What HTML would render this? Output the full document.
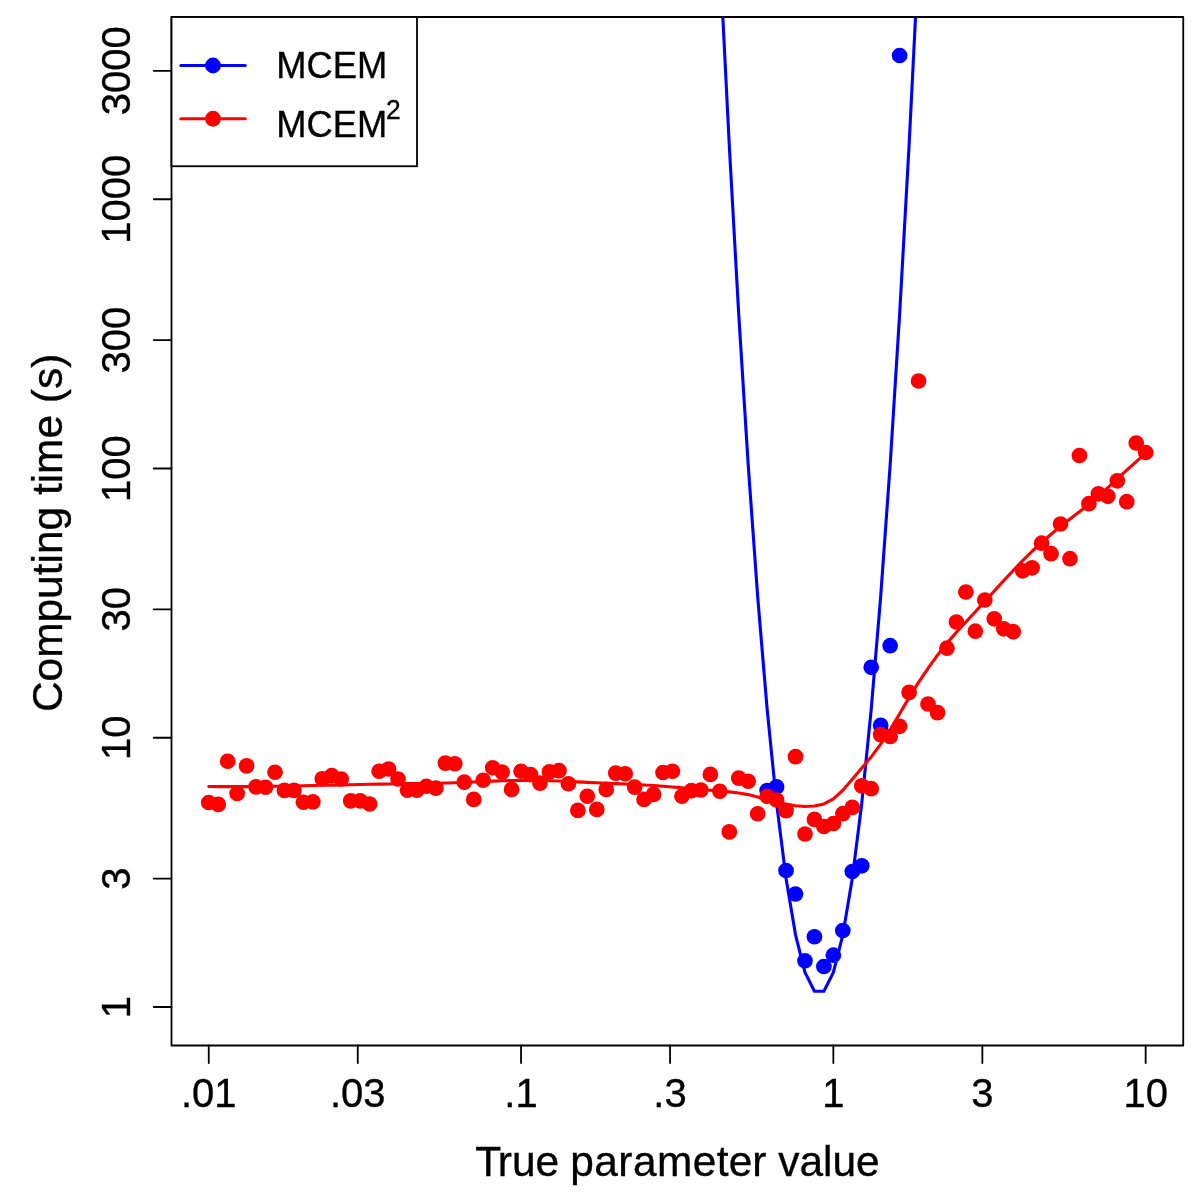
<!DOCTYPE html>
<html><head><meta charset="utf-8"><title>Computing time</title>
<style>
html,body{margin:0;padding:0;background:#fff;}
svg{display:block;}
text{font-family:"Liberation Sans",sans-serif;fill:#000;stroke:#000;stroke-width:0.35px;}
</style></head><body>
<svg width="1200" height="1200" viewBox="0 0 1200 1200">
<rect width="1200" height="1200" fill="#fff"/>
<defs><clipPath id="pc"><rect x="171.5" y="17" width="1011.75" height="1028.5"/></clipPath></defs>

<g clip-path="url(#pc)">
<g fill="#0000ff"><circle cx="767.13" cy="790.6" r="7.85"/><circle cx="776.59" cy="786.9" r="7.85"/><circle cx="786.05" cy="870.5" r="7.85"/><circle cx="795.52" cy="894" r="7.85"/><circle cx="804.98" cy="960.75" r="7.85"/><circle cx="814.45" cy="936.75" r="7.85"/><circle cx="823.91" cy="966.5" r="7.85"/><circle cx="833.37" cy="955.2" r="7.85"/><circle cx="842.84" cy="930.5" r="7.85"/><circle cx="852.30" cy="871.5" r="7.85"/><circle cx="861.77" cy="865.8" r="7.85"/><circle cx="871.23" cy="667.3" r="7.85"/><circle cx="880.69" cy="725.4" r="7.85"/><circle cx="890.16" cy="645.7" r="7.85"/><circle cx="899.62" cy="55.5" r="7.85"/></g>
<path d="M681.95,-982.80 L691.41,-719.60 L700.88,-475.20 L710.34,-249.60 L719.81,-42.80 L729.27,145.20 L738.73,314.40 L748.20,464.80 L757.66,596.40 L767.13,709.20 L776.59,803.20 L786.05,878.40 L795.52,934.80 L804.98,972.40 L814.45,991.20 L823.91,991.20 L833.37,972.40 L842.84,934.80 L852.30,878.40 L861.77,803.20 L871.23,709.20 L880.69,596.40 L890.16,464.80 L899.62,314.40 L909.09,145.20 L918.55,-42.80 L928.01,-249.60 L937.48,-475.20 L946.94,-719.60 L956.41,-982.80" fill="none" stroke="#0000ff" stroke-width="3.1" stroke-linejoin="round" stroke-linecap="round"/>
<g fill="#ff0000"><circle cx="208.75" cy="802.5" r="7.85"/><circle cx="218.21" cy="804.4" r="7.85"/><circle cx="227.68" cy="761.25" r="7.85"/><circle cx="237.14" cy="793.5" r="7.85"/><circle cx="246.61" cy="765.9" r="7.85"/><circle cx="256.07" cy="786.9" r="7.85"/><circle cx="265.53" cy="787.25" r="7.85"/><circle cx="275.00" cy="772.25" r="7.85"/><circle cx="284.46" cy="790.4" r="7.85"/><circle cx="293.93" cy="790.4" r="7.85"/><circle cx="303.39" cy="802.25" r="7.85"/><circle cx="312.85" cy="801.9" r="7.85"/><circle cx="322.32" cy="778.75" r="7.85"/><circle cx="331.78" cy="775.6" r="7.85"/><circle cx="341.25" cy="779" r="7.85"/><circle cx="350.71" cy="800.9" r="7.85"/><circle cx="360.17" cy="800.9" r="7.85"/><circle cx="369.64" cy="804" r="7.85"/><circle cx="379.10" cy="771.25" r="7.85"/><circle cx="388.57" cy="769" r="7.85"/><circle cx="398.03" cy="779" r="7.85"/><circle cx="407.49" cy="790.25" r="7.85"/><circle cx="416.96" cy="790.25" r="7.85"/><circle cx="426.42" cy="786.25" r="7.85"/><circle cx="435.89" cy="788.1" r="7.85"/><circle cx="445.35" cy="763.1" r="7.85"/><circle cx="454.81" cy="763.75" r="7.85"/><circle cx="464.28" cy="782.1" r="7.85"/><circle cx="473.74" cy="799.4" r="7.85"/><circle cx="483.21" cy="780.25" r="7.85"/><circle cx="492.67" cy="767.75" r="7.85"/><circle cx="502.13" cy="772.1" r="7.85"/><circle cx="511.60" cy="789.4" r="7.85"/><circle cx="521.06" cy="771.25" r="7.85"/><circle cx="530.53" cy="774.6" r="7.85"/><circle cx="539.99" cy="783.1" r="7.85"/><circle cx="549.45" cy="771.9" r="7.85"/><circle cx="558.92" cy="770.6" r="7.85"/><circle cx="568.38" cy="783.75" r="7.85"/><circle cx="577.85" cy="810.4" r="7.85"/><circle cx="587.31" cy="796.25" r="7.85"/><circle cx="596.77" cy="809.4" r="7.85"/><circle cx="606.24" cy="789.4" r="7.85"/><circle cx="615.70" cy="773.1" r="7.85"/><circle cx="625.17" cy="773.75" r="7.85"/><circle cx="634.63" cy="787.1" r="7.85"/><circle cx="644.09" cy="799.4" r="7.85"/><circle cx="653.56" cy="794.4" r="7.85"/><circle cx="663.02" cy="772.5" r="7.85"/><circle cx="672.49" cy="771.25" r="7.85"/><circle cx="681.95" cy="796.25" r="7.85"/><circle cx="691.41" cy="790.6" r="7.85"/><circle cx="700.88" cy="790" r="7.85"/><circle cx="710.34" cy="774.4" r="7.85"/><circle cx="719.81" cy="791.25" r="7.85"/><circle cx="729.27" cy="831.9" r="7.85"/><circle cx="738.73" cy="778.1" r="7.85"/><circle cx="748.20" cy="781.25" r="7.85"/><circle cx="757.66" cy="813.75" r="7.85"/><circle cx="767.13" cy="796.25" r="7.85"/><circle cx="776.59" cy="800" r="7.85"/><circle cx="786.05" cy="810.6" r="7.85"/><circle cx="795.52" cy="756.6" r="7.85"/><circle cx="804.98" cy="834" r="7.85"/><circle cx="814.45" cy="819.4" r="7.85"/><circle cx="823.91" cy="826.5" r="7.85"/><circle cx="833.37" cy="823.5" r="7.85"/><circle cx="842.84" cy="813.7" r="7.85"/><circle cx="852.30" cy="807.4" r="7.85"/><circle cx="861.77" cy="785.9" r="7.85"/><circle cx="871.23" cy="788.7" r="7.85"/><circle cx="880.69" cy="734.6" r="7.85"/><circle cx="890.16" cy="736.4" r="7.85"/><circle cx="899.62" cy="726.3" r="7.85"/><circle cx="909.09" cy="692.4" r="7.85"/><circle cx="918.55" cy="381" r="7.85"/><circle cx="928.01" cy="704" r="7.85"/><circle cx="937.48" cy="712.6" r="7.85"/><circle cx="946.94" cy="648.2" r="7.85"/><circle cx="956.41" cy="622" r="7.85"/><circle cx="965.87" cy="592" r="7.85"/><circle cx="975.33" cy="631.2" r="7.85"/><circle cx="984.80" cy="600" r="7.85"/><circle cx="994.26" cy="618.8" r="7.85"/><circle cx="1003.73" cy="628.8" r="7.85"/><circle cx="1013.19" cy="631.7" r="7.85"/><circle cx="1022.65" cy="570.8" r="7.85"/><circle cx="1032.12" cy="567.8" r="7.85"/><circle cx="1041.58" cy="543.2" r="7.85"/><circle cx="1051.05" cy="553.7" r="7.85"/><circle cx="1060.51" cy="524" r="7.85"/><circle cx="1069.97" cy="558.7" r="7.85"/><circle cx="1079.44" cy="455.5" r="7.85"/><circle cx="1088.90" cy="503.7" r="7.85"/><circle cx="1098.37" cy="493.8" r="7.85"/><circle cx="1107.83" cy="496.3" r="7.85"/><circle cx="1117.29" cy="480.8" r="7.85"/><circle cx="1126.76" cy="501.7" r="7.85"/><circle cx="1136.22" cy="443" r="7.85"/><circle cx="1145.69" cy="452.5" r="7.85"/></g>
<path d="M208.75,786.50 L218.21,786.59 L227.68,786.63 L237.14,786.63 L246.61,786.59 L256.07,786.51 L265.53,786.40 L275.00,786.27 L284.46,786.11 L293.93,785.93 L303.39,785.74 L312.85,785.54 L322.32,785.32 L331.78,785.11 L341.25,784.89 L350.71,784.68 L360.17,784.47 L369.64,784.28 L379.10,784.10 L388.57,783.94 L398.03,783.80 L407.49,783.66 L416.96,783.52 L426.42,783.36 L435.89,783.18 L445.35,782.95 L454.81,782.68 L464.28,782.34 L473.74,781.95 L483.21,781.55 L492.67,781.16 L502.13,780.82 L511.60,780.56 L521.06,780.43 L530.53,780.42 L539.99,780.52 L549.45,780.73 L558.92,781.03 L568.38,781.43 L577.85,781.89 L587.31,782.37 L596.77,782.81 L606.24,783.20 L615.70,783.58 L625.17,783.98 L634.63,784.42 L644.09,784.95 L653.56,785.57 L663.02,786.27 L672.49,787.04 L681.95,787.85 L691.41,788.67 L700.88,789.47 L710.34,790.25 L719.81,791.04 L729.27,791.90 L738.73,792.98 L748.20,794.60 L757.66,797.00 L767.13,799.78 L776.59,802.27 L786.05,804.14 L795.52,805.73 L804.98,806.51 L814.45,806.05 L823.91,803.91 L833.37,798.86 L842.84,790.25 L852.30,779.24 L861.77,768.09 L871.23,756.82 L880.69,744.13 L890.16,729.64 L899.62,713.81 L909.09,697.64 L918.55,682.40 L928.01,668.33 L937.48,655.20 L946.94,643.13 L956.41,632.28 L965.87,622.06 L975.33,611.78 L984.80,601.39 L994.26,590.98 L1003.73,580.62 L1013.19,570.45 L1022.65,560.61 L1032.12,551.26 L1041.58,542.47 L1051.05,534.21 L1060.51,526.42 L1069.97,519.01 L1079.44,511.73 L1088.90,504.21 L1098.37,496.14 L1107.83,487.62 L1117.29,478.87 L1126.76,470.12 L1136.22,461.59 L1145.69,453.50" fill="none" stroke="#ff0000" stroke-width="3.1" stroke-linejoin="round" stroke-linecap="round"/>
</g>
<g fill="none" stroke="#000" stroke-width="1.8" stroke-linecap="round" stroke-linejoin="round">
<rect x="171.5" y="17" width="1011.75" height="1028.5"/>
<line x1="208.75" y1="1045.5" x2="208.75" y2="1063"/>
<line x1="357.75" y1="1045.5" x2="357.75" y2="1063"/>
<line x1="521.05" y1="1045.5" x2="521.05" y2="1063"/>
<line x1="670.05" y1="1045.5" x2="670.05" y2="1063"/>
<line x1="833.35" y1="1045.5" x2="833.35" y2="1063"/>
<line x1="982.35" y1="1045.5" x2="982.35" y2="1063"/>
<line x1="1145.65" y1="1045.5" x2="1145.65" y2="1063"/>
<line x1="171.5" y1="1007.00" x2="153.75" y2="1007.00"/>
<line x1="171.5" y1="878.54" x2="153.75" y2="878.54"/>
<line x1="171.5" y1="737.75" x2="153.75" y2="737.75"/>
<line x1="171.5" y1="609.29" x2="153.75" y2="609.29"/>
<line x1="171.5" y1="468.50" x2="153.75" y2="468.50"/>
<line x1="171.5" y1="340.04" x2="153.75" y2="340.04"/>
<line x1="171.5" y1="199.25" x2="153.75" y2="199.25"/>
<line x1="171.5" y1="70.79" x2="153.75" y2="70.79"/>
</g>
<text x="208.75" y="1107" font-size="40" text-anchor="middle">.01</text>
<text x="357.75" y="1107" font-size="40" text-anchor="middle">.03</text>
<text x="521.05" y="1107" font-size="40" text-anchor="middle">.1</text>
<text x="670.05" y="1107" font-size="40" text-anchor="middle">.3</text>
<text x="833.35" y="1107" font-size="40" text-anchor="middle">1</text>
<text x="982.35" y="1107" font-size="40" text-anchor="middle">3</text>
<text x="1145.65" y="1107" font-size="40" text-anchor="middle">10</text>
<text transform="translate(130,1007.00) rotate(-90)" font-size="40" text-anchor="middle">1</text>
<text transform="translate(130,878.54) rotate(-90)" font-size="40" text-anchor="middle">3</text>
<text transform="translate(130,737.75) rotate(-90)" font-size="40" text-anchor="middle">10</text>
<text transform="translate(130,609.29) rotate(-90)" font-size="40" text-anchor="middle">30</text>
<text transform="translate(130,468.50) rotate(-90)" font-size="40" text-anchor="middle">100</text>
<text transform="translate(130,340.04) rotate(-90)" font-size="40" text-anchor="middle">300</text>
<text transform="translate(130,199.25) rotate(-90)" font-size="40" text-anchor="middle">1000</text>
<text transform="translate(130,70.79) rotate(-90)" font-size="40" text-anchor="middle">3000</text>
<text x="677.5" y="1175.5" font-size="42.45" text-anchor="middle">T<tspan dx="-1.9">rue</tspan><tspan dx="-0.7"> </tspan><tspan letter-spacing="0.45">parame</tspan>ter value</text>
<text transform="translate(62.0,532.9) rotate(-90) scale(1,1.02)" font-size="42.45" text-anchor="middle">Computing time (s)</text>
<rect x="171.5" y="17" width="245.5" height="149.25" fill="#fff" stroke="#000" stroke-width="1.8"/>
<line x1="180.8" y1="65.5" x2="245.3" y2="65.5" stroke="#0000ff" stroke-width="3" stroke-linecap="round"/><circle cx="213" cy="65.5" r="7.9" fill="#0000ff"/>
<line x1="180.8" y1="118.75" x2="245.3" y2="118.75" stroke="#ff0000" stroke-width="3" stroke-linecap="round"/><circle cx="213" cy="118.75" r="7.9" fill="#ff0000"/>
<text transform="translate(276.3,78) scale(1,1.035)" font-size="36.3">MCEM</text>
<text transform="translate(276.3,136.8) scale(1,1.035)" font-size="36.3">MCEM<tspan font-size="26.5" dy="-17.2" dx="-1.3">2</tspan></text>
</svg></body></html>
